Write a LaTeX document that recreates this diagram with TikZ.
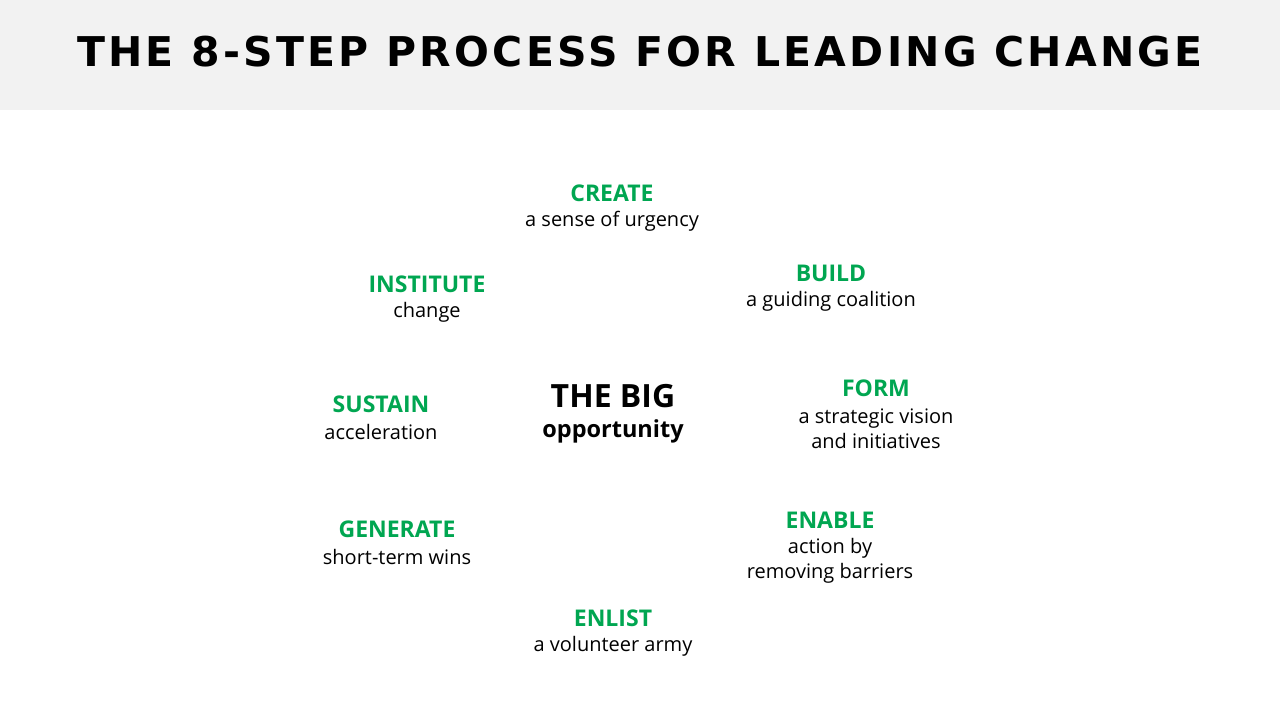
\documentclass[tikz,border=0pt]{standalone}
\usepackage{fontspec}
\setmainfont{Open Sans}
\newfontfamily\titlefont[LetterSpace=8]{DejaVu Sans}
\definecolor{band}{HTML}{F2F2F2}
\definecolor{stepgreen}{HTML}{00A651}
\begin{document}
\begin{tikzpicture}[x=1pt,y=-1pt,
  head/.style={text=stepgreen,font=\fontsize{23}{27}\selectfont\bfseries,inner sep=0pt},
  sub/.style={text=black,font=\fontsize{20}{25}\selectfont,inner sep=0pt,align=center}]
\useasboundingbox (0,0) rectangle (1280,720);
\fill[white] (0,0) rectangle (1280,720);
\fill[band] (0,0) rectangle (1280,110);
\node[inner sep=0pt,font=\titlefont\fontsize{41}{46}\selectfont\bfseries] (title) at (640,52) {THE 8-STEP PROCESS FOR LEADING CHANGE};
\node[head] (h1) at (612,193) {CREATE};
\node[sub] (s1) at (612,221) {a sense of urgency};
\node[head] (h2) at (831,273) {BUILD};
\node[sub] (s2) at (831,301) {a guiding coalition};
\node[head] (h3) at (876,388) {FORM};
\node[sub] (s3) at (876,429) {a strategic vision\\ and initiatives};
\node[head] (h4) at (830,520) {ENABLE};
\node[sub] (s4) at (830,561) {action by\\ removing barriers};
\node[head] (h5) at (613,618) {ENLIST};
\node[sub] (s5) at (613,646) {a volunteer army};
\node[head] (h6) at (397,529) {GENERATE};
\node[sub] (s6) at (397,557) {short-term wins};
\node[head] (h7) at (381,404) {SUSTAIN};
\node[sub] (s7) at (381,432) {acceleration};
\node[head] (h8) at (427,284) {INSTITUTE};
\node[sub] (s8) at (427,312) {change};
\node[inner sep=0pt,font=\fontsize{32}{36}\selectfont\bfseries] (big) at (613,396) {THE BIG};
\node[inner sep=0pt,font=\fontsize{23.5}{28}\selectfont\bfseries] (opp) at (613,431) {opportunity};
\end{tikzpicture}
\end{document}
